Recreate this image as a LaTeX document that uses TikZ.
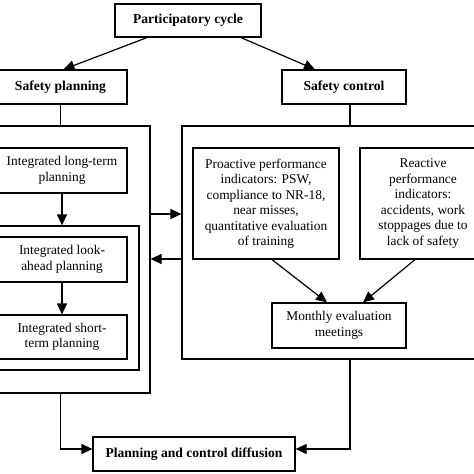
\documentclass[tikz,border=0pt]{standalone}
\usepackage{fontspec}
\setmainfont{Liberation Serif}
\usetikzlibrary{arrows.meta}
\begin{document}
\begin{tikzpicture}[x=1pt,y=-1pt,
  box/.style={draw,line width=1.2pt,align=center,inner sep=0pt,font=\fontsize{13.4}{15.5}\selectfont},
  bbox/.style={box,font=\fontsize{13.6}{15.5}\selectfont\bfseries},
  frame/.style={draw,line width=1.2pt,inner sep=0pt},
  arr/.style={line width=1.2pt,-{Triangle[length=11pt,width=10pt]}},
  ln/.style={line width=1.2pt}]
\clip (0,0) rectangle (474,474);
\fill[white] (0,0) rectangle (474,474);
% frames
\node[frame,minimum width=170pt,minimum height=267pt] (lf) at (65,259.5) {};
\node[frame,minimum width=318pt,minimum height=233pt] (rf) at (341,242.5) {};
\node[frame,minimum width=151pt,minimum height=144pt] (inf) at (63.5,298) {};
% boxes
\node[bbox,minimum width=146pt,minimum height=33pt] (pc) at (188,20.5) {Participatory cycle};
\node[bbox,minimum width=133pt,minimum height=34pt] (sp) at (60.5,87) {Safety planning};
\node[bbox,minimum width=124pt,minimum height=34pt] (sc) at (344,87) {Safety control};
\node[box,minimum width=130pt,minimum height=45pt] (lt) at (62,170.5) {Integrated long-term\\planning};
\node[box,minimum width=130pt,minimum height=45pt] (la) at (62,259.5) {Integrated look-\\ahead planning};
\node[box,minimum width=130pt,minimum height=44pt] (st) at (62,337) {Integrated short-\\term planning};
\node[box,minimum width=146pt,minimum height=111pt] (pro) at (266,203.5) {Proactive performance\\indicators: PSW,\\compliance to NR-18,\\near misses,\\quantitative evaluation\\of training};
\node[box,minimum width=126pt,minimum height=111pt] (rea) at (423,203.5) {Reactive\\performance\\indicators:\\accidents, work\\stoppages due to\\lack of safety};
\node[box,minimum width=134pt,minimum height=45pt] (mon) at (339,325.5) {Monthly evaluation\\meetings};
\node[bbox,minimum width=202pt,minimum height=34pt] (pd) at (194,454) {Planning and control diffusion};
% connectors
\coordinate (y1) at (0,214);
\coordinate (y2) at (0,259);
\draw[arr] ([xshift=-41pt]pc.south) -- ([xshift=3pt]sp.north);
\draw[arr] ([xshift=53pt]pc.south) -- ([xshift=-29pt]sc.north);
\draw[ln] (sp.south) -- (sp.south |- lf.north);
\draw[ln] ([xshift=6pt]sc.south) -- ([xshift=6pt]sc.south |- rf.north);
\draw[arr] (lt.south) -- (lt.south |- inf.north);
\draw[arr] (la.south) -- (st.north);
\draw[arr] (lf.east |- y1) -- (rf.west |- y1);
\draw[arr] (rf.west |- y2) -- (lf.east |- y2);
\draw[arr] ([xshift=6pt]pro.south) -- ([xshift=-12pt]mon.north);
\draw[arr] ([xshift=-8pt]rea.south) -- ([xshift=24pt]mon.north);
\draw[arr] (sp.south |- lf.south) |- ([yshift=5pt]pd.west);
\draw[arr] ([xshift=6pt]sc.south |- rf.south) |- ([yshift=5pt]pd.east);
\end{tikzpicture}
\end{document}
